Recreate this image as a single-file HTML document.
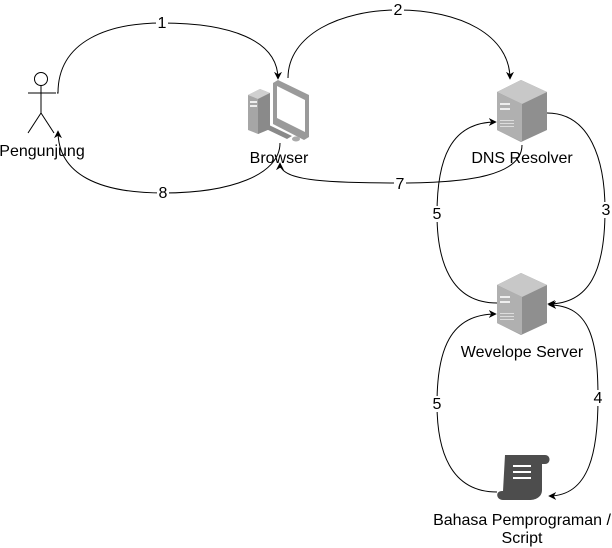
<!DOCTYPE html>
<html><head><meta charset="utf-8"><style>
html,body{margin:0;padding:0;background:#fff;}
svg{display:block;}
text{font-family:"Liberation Sans",sans-serif;font-size:16px;fill:#000;}
</style></head><body>
<svg width="612" height="548" viewBox="0 0 612 548" xmlns="http://www.w3.org/2000/svg">
<defs>
<marker id="a" viewBox="0 0 10 10" refX="9" refY="5" markerWidth="8" markerHeight="8" orient="auto-start-reverse" markerUnits="userSpaceOnUse">
<path d="M0,0 L10,5 L0,10 L3,5 Z" fill="#000"/>
</marker>
</defs>
<g fill="none" stroke="#000" stroke-width="1">
<path d="M57,93 L58,93 C58,40 110,23 162,23 C230,23 278,40 278,79" marker-end="url(#a)"/>
<path d="M288,78 C288,35 340,10 398,10 C460,10 510,35 510,79" marker-end="url(#a)"/>
<path d="M547,113 C590,113 605,160 605,210 C605,270 590,304 548,304" marker-end="url(#a)"/>
<path d="M522,145 C522,175 470,183 400,183 C320,183 280,180 280,163" marker-end="url(#a)"/>
<path d="M497,303 C450,303 437,260 437,214 C437,160 450,122 496,122" marker-end="url(#a)"/>
<path d="M549,496 C590,496 598,450 598,398 C598,340 590,305 549,305" marker-start="url(#a)" marker-end="url(#a)"/>
<path d="M497,492 C450,492 437,450 437,404 C437,350 450,314 496,314" marker-end="url(#a)"/>
<path d="M280,143 C280,175 230,193 163,193 C100,193 58,175 58,131" marker-end="url(#a)"/>
<circle cx="41" cy="79" r="6.5" fill="#fff"/>
<path d="M41,85.5 V113 M28,93 H56 M41,113 L28,133 M41,113 L54,133"/>
</g>
<g text-anchor="middle">
<rect x="156" y="14" width="12" height="16" fill="#fff"/><text x="162" y="28">1</text>
<rect x="392" y="2" width="12" height="16" fill="#fff"/><text x="398" y="15">2</text>
<rect x="600" y="202" width="12" height="16" fill="#fff"/><text x="606" y="215">3</text>
<rect x="394" y="175" width="12" height="16" fill="#fff"/><text x="400" y="189">7</text>
<rect x="431" y="206" width="12" height="16" fill="#fff"/><text x="437" y="219">5</text>
<rect x="592" y="390" width="12" height="16" fill="#fff"/><text x="598" y="403">4</text>
<rect x="431" y="396" width="12" height="16" fill="#fff"/><text x="437" y="409">5</text>
<rect x="157" y="185" width="12" height="16" fill="#fff"/><text x="163" y="198">8</text>
</g>
<g>
<polygon points="248,95 260,89 270,93 270,129 258,134 248,130" fill="#a6a6a6"/>
<polygon points="248,95 260,89 270,93 258,99" fill="#d0d0d0"/>
<polygon points="258,99 270,93 270,129 258,134" fill="#8a8a8a"/>
<polygon points="273,83 278,80 309,95 309,137 304,140 273,124" fill="#9a9a9a"/>
<polygon points="277,86 305,100 305,132 277,118" fill="#fff"/>
<polygon points="264,128 269,125 292,136 287,139" fill="#8a8a8a"/>
<ellipse cx="296" cy="139" rx="4" ry="2.5" fill="#aaa"/>
<rect x="250" y="101" width="7" height="2" fill="#eee"/>
<rect x="250" y="105" width="7" height="2" fill="#eee"/>
</g>
<text x="279" y="163" text-anchor="middle">Browser</text>
<g>
<polygon points="497,92 521,80 547,92 547,130 521,142 497,130" fill="#8f8f8f"/>
<polygon points="497,92 521,80 547,92 522,104" fill="#c8c8c8"/>
<polygon points="497,92 522,104 522,142 497,130" fill="#b0b0b0"/>
<rect x="500" y="103" width="10" height="2" fill="#eee"/>
<rect x="500" y="108" width="10" height="2" fill="#eee"/>
<rect x="500" y="120" width="14" height="1" fill="#ddd"/>
<rect x="500" y="123" width="14" height="1" fill="#ddd"/>
<rect x="500" y="126" width="14" height="1" fill="#ddd"/>
</g>
<text x="522" y="163" text-anchor="middle">DNS Resolver</text>
<g>
<polygon points="497,285 521,273 547,285 547,323 521,335 497,323" fill="#8f8f8f"/>
<polygon points="497,285 521,273 547,285 522,297" fill="#c8c8c8"/>
<polygon points="497,285 522,297 522,335 497,323" fill="#b0b0b0"/>
<rect x="500" y="296" width="10" height="2" fill="#eee"/>
<rect x="500" y="301" width="10" height="2" fill="#eee"/>
<rect x="500" y="313" width="14" height="1" fill="#ddd"/>
<rect x="500" y="316" width="14" height="1" fill="#ddd"/>
<rect x="500" y="319" width="14" height="1" fill="#ddd"/>
</g>
<text x="522" y="357" text-anchor="middle">Wevelope Server</text>
<g fill="#4d4d4d">
<path d="M505,455 H545 C551,455 551,464 545,464 H542 V490 C542,498 534,500 530,500 H503 C496,500 495,491 502,491 H503 Z"/>
</g>
<g stroke="#fff" stroke-width="2">
<line x1="513" y1="466" x2="531" y2="466"/>
<line x1="513" y1="472" x2="531" y2="472"/>
<line x1="513" y1="478" x2="531" y2="478"/>
</g>
<text x="522" y="525" text-anchor="middle">Bahasa Pemprograman /</text>
<text x="522" y="543" text-anchor="middle">Script</text>
<text x="42" y="156" text-anchor="middle">Pengunjung</text>
</svg>
</body></html>
